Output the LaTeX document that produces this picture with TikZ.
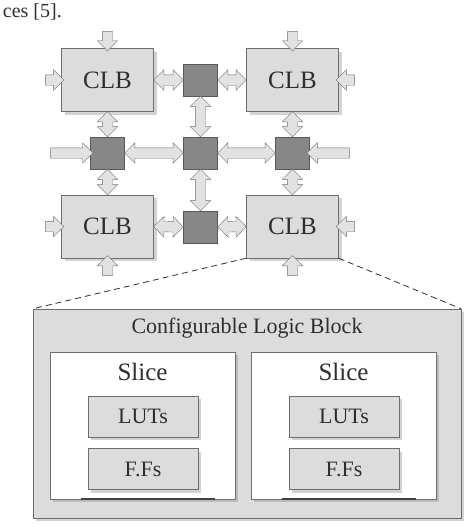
\documentclass[tikz,border=0pt]{standalone}
\usepackage{fontspec}
\setmainfont{Liberation Serif}
\usetikzlibrary{shapes.arrows,shadows,calc}

\definecolor{boxgray}{HTML}{DCDCDC}
\definecolor{edgegray}{HTML}{6E6E6E}
\definecolor{swgray}{HTML}{878787}
\definecolor{arrgray}{HTML}{E2E2E2}
\definecolor{inkgray}{HTML}{2E2E2E}

% block arrow node laid between two points
\newcommand{\blockarrow}[3]{%
  \path let \p1=(#2), \p2=(#3), \n1={veclen(\x2-\x1,\y2-\y1)},
    \n2={atan2(\y2-\y1,\x2-\x1)} in
    node[#1, minimum height=\n1, rotate=\n2] at ($(#2)!0.5!(#3)$) {};}

\begin{document}
\begin{tikzpicture}[x=1pt,y=-1pt,
  shade/.style={drop shadow={shadow xshift=3pt, shadow yshift=-3pt, opacity=0.35}},
  clb/.style={draw=edgegray, fill=boxgray, minimum width=92pt, minimum height=63pt,
    text=inkgray, font=\fontsize{25}{30}\selectfont, shade},
  switch/.style={draw=edgegray!80!black, fill=swgray, minimum width=34pt, minimum height=32pt, inner sep=0pt},
  darrow/.style={double arrow, draw=edgegray, fill=arrgray, inner xsep=0pt, inner ysep=5pt,
    double arrow head extend=5pt},
  sarrow/.style={single arrow, draw=edgegray, fill=arrgray, inner xsep=0pt, inner ysep=5pt,
    single arrow head extend=5pt},
  bigbox/.style={draw=edgegray, fill=boxgray, minimum width=428pt, minimum height=209pt, shade},
  slice/.style={draw=edgegray, fill=white, minimum width=185pt, minimum height=147pt, shade},
  part/.style={draw=edgegray, fill=boxgray, minimum width=110pt, minimum height=41pt,
    text=inkgray, font=\fontsize{22}{26}\selectfont, shade},
  label/.style={text=inkgray, font=\fontsize{22}{26}\selectfont}
]
\useasboundingbox (0,0) rectangle (474,531);

\node[label, anchor=base east, inner sep=0pt, font=\fontsize{20}{24}\selectfont] (cap) at (62,17) {ces [5].};

% CLB grid
\node[clb] (clb1) at (107.5,80) {CLB};
\node[clb] (clb2) at (292.5,80) {CLB};
\node[clb] (clb3) at (107.5,226.5) {CLB};
\node[clb] (clb4) at (292.5,226.5) {CLB};

\node[switch] (sw1) at (200.5,80) {};
\node[switch] (sw2) at (107.5,153) {};
\node[switch] (sw3) at (200.5,153) {};
\node[switch] (sw4) at (292.5,153) {};
\node[switch] (sw5) at (200.5,227) {};

\coordinate (in1) at (107.5,29);
\coordinate (in2) at (292.5,29);
\coordinate (in3) at (43,80);
\coordinate (in4) at (357,80);
\coordinate (in5) at (48,153);
\coordinate (in6) at (352,153);
\coordinate (in7) at (43,226.5);
\coordinate (in8) at (357,226.5);
\coordinate (in9) at (107.5,278);
\coordinate (in10) at (292.5,278);

\blockarrow{darrow}{clb1.east}{sw1.west}
\blockarrow{darrow}{sw1.east}{clb2.west}
\blockarrow{darrow}{clb1.south}{sw2.north}
\blockarrow{darrow}{clb2.south}{sw4.north}
\blockarrow{darrow}{sw1.south}{sw3.north}
\blockarrow{darrow}{sw2.east}{sw3.west}
\blockarrow{darrow}{sw3.east}{sw4.west}
\blockarrow{darrow}{sw2.south}{clb3.north}
\blockarrow{darrow}{sw4.south}{clb4.north}
\blockarrow{darrow}{sw3.south}{sw5.north}
\blockarrow{darrow}{clb3.east}{sw5.west}
\blockarrow{darrow}{sw5.east}{clb4.west}

\blockarrow{sarrow}{in1}{clb1.north}
\blockarrow{sarrow}{in2}{clb2.north}
\blockarrow{sarrow}{in3}{clb1.west}
\blockarrow{sarrow}{in4}{clb2.east}
\blockarrow{sarrow}{in5}{sw2.west}
\blockarrow{sarrow}{in6}{sw4.east}
\blockarrow{sarrow}{in7}{clb3.west}
\blockarrow{sarrow}{in8}{clb4.east}
\blockarrow{sarrow}{in9}{clb3.south}
\blockarrow{sarrow}{in10}{clb4.south}

% zoomed CLB
\node[bigbox] (blk) at (247,413.5) {};
\draw[dashed, dash pattern=on 6pt off 4pt, thick, inkgray] (clb4.south west) -- (blk.north west);
\draw[dashed, dash pattern=on 6pt off 4pt, thick, inkgray] (clb4.south east) -- (blk.north east);
\node[label] (title) at (247,328) {Configurable Logic Block};

\node[slice] (s1) at (142.5,425.5) {};
\node[slice] (s2) at (343.5,425.5) {};
\draw[line width=1.5pt, black!75] ([xshift=31pt]s1.south west) -- ([xshift=-20pt]s1.south east);
\draw[line width=1.5pt, black!75] ([xshift=31pt]s2.south west) -- ([xshift=-20pt]s2.south east);
\node[label, font=\fontsize{25}{30}\selectfont] (s1t) at (142.5,372) {Slice};
\node[label, font=\fontsize{25}{30}\selectfont] (s2t) at (343.5,372) {Slice};

\node[part] (lut1) at (143,416.5) {LUTs};
\node[part] (ff1) at (143,469) {F.Fs};
\node[part] (lut2) at (344,416.5) {LUTs};
\node[part] (ff2) at (344,469) {F.Fs};
\end{tikzpicture}
\end{document}
